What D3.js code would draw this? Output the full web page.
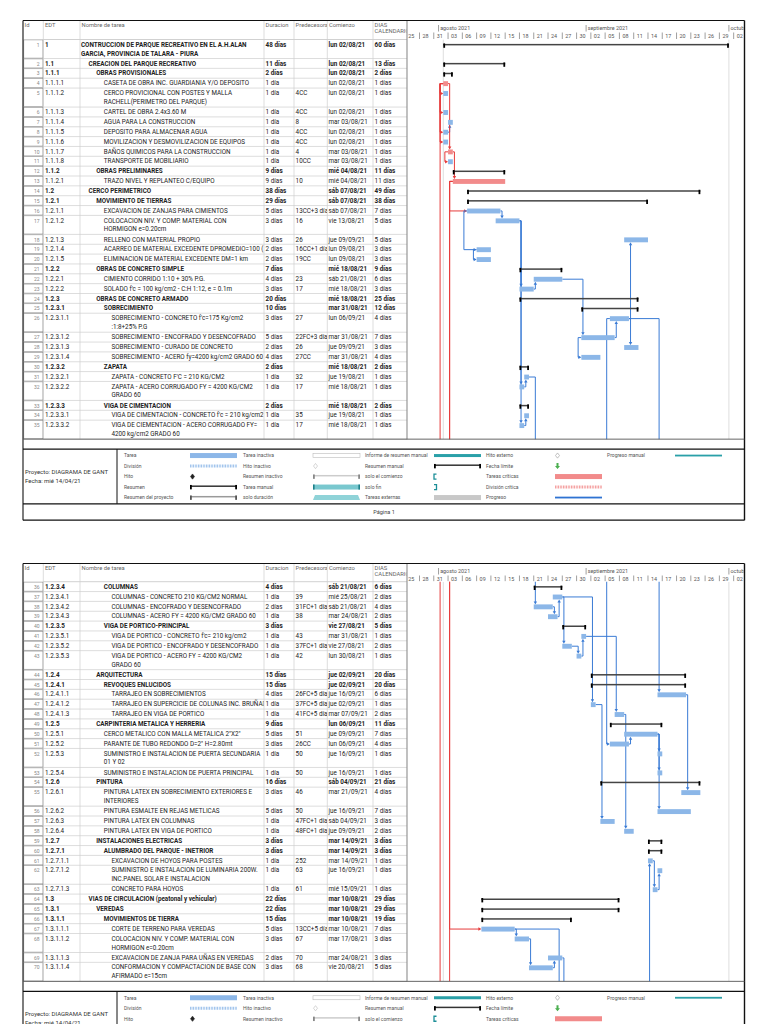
<!DOCTYPE html>
<html><head><meta charset="utf-8">
<script src="https://cdn.jsdelivr.net/npm/d3@7/dist/d3.min.js"></script>
<style>html,body{margin:0;padding:0;background:#fff}svg{display:block}</style>
</head><body>
<svg id="chart" width="768" height="1024" xmlns="http://www.w3.org/2000/svg"></svg>
<script>
// ================= DATA =================
const taskIds = d3.range(1, 71);
const edt = ["1","1.1","1.1.1","1.1.1.1","1.1.1.2","1.1.1.3","1.1.1.4","1.1.1.5","1.1.1.6","1.1.1.7",
"1.1.1.8","1.1.2","1.1.2.1","1.2","1.2.1","1.2.1.1","1.2.1.2","1.2.1.3","1.2.1.4","1.2.1.5",
"1.2.2","1.2.2.1","1.2.2.2","1.2.3","1.2.3.1","1.2.3.1.1","1.2.3.1.2","1.2.3.1.3","1.2.3.1.4","1.2.3.2",
"1.2.3.2.1","1.2.3.2.2","1.2.3.3","1.2.3.3.1","1.2.3.3.2","1.2.3.4","1.2.3.4.1","1.2.3.4.2","1.2.3.4.3","1.2.3.5",
"1.2.3.5.1","1.2.3.5.2","1.2.3.5.3","1.2.4","1.2.4.1","1.2.4.1.1","1.2.4.1.2","1.2.4.1.3","1.2.5","1.2.5.1",
"1.2.5.2","1.2.5.3","1.2.5.4","1.2.6","1.2.6.1","1.2.6.2","1.2.6.3","1.2.6.4","1.2.7","1.2.7.1",
"1.2.7.1.1","1.2.7.1.2","1.2.7.1.3","1.3","1.3.1","1.3.1.1","1.3.1.1.1","1.3.1.1.2","1.3.1.1.3","1.3.1.1.4"];
const taskNames = [
"CONTRUCCION DE PARQUE RECREATIVO EN EL A.H.ALAN\nGARCIA, PROVINCIA DE TALARA - PIURA",
"CREACION DEL PARQUE RECREATIVO",
"OBRAS PROVISIONALES",
"CASETA DE OBRA INC. GUARDIANIA Y/O DEPOSITO",
"CERCO PROVICIONAL CON POSTES Y MALLA\nRACHELL(PERIMETRO DEL PARQUE)",
"CARTEL DE OBRA 2.4x3.60 M",
"AGUA PARA LA CONSTRUCCION",
"DEPOSITO PARA ALMACENAR AGUA",
"MOVILIZACION Y DESMOVILIZACION DE EQUIPOS",
"BAÑOS QUIMICOS PARA LA CONSTRUCCION",
"TRANSPORTE DE MOBILIARIO",
"OBRAS PRELIMINARES",
"TRAZO NIVEL Y REPLANTEO C/EQUIPO",
"CERCO PERIMETRICO",
"MOVIMIENTO DE TIERRAS",
"EXCAVACION DE ZANJAS PARA CIMIENTOS",
"COLOCACION NIV. Y COMP. MATERIAL CON\nHORMIGON e=0.20cm",
"RELLENO CON MATERIAL PROPIO",
"ACARREO DE MATERIAL EXCEDENTE DPROMEDIO=100 (",
"ELIMINACION DE MATERIAL EXCEDENTE DM=1 km",
"OBRAS DE CONCRETO SIMPLE",
"CIMIENTO CORRIDO 1:10 + 30% P.G.",
"SOLADO f'c = 100 kg/cm2 - C:H 1:12, e = 0.1m",
"OBRAS DE CONCRETO ARMADO",
"SOBRECIMIENTO",
"SOBRECIMIENTO - CONCRETO f'c=175 Kg/cm2\n:1:8+25% P.G",
"SOBRECIMIENTO - ENCOFRADO Y DESENCOFRADO",
"SOBRECIMIENTO - CURADO DE CONCRETO",
"SOBRECIMIENTO - ACERO fy=4200 kg/cm2 GRADO 60",
"ZAPATA",
"ZAPATA - CONCRETO F'C = 210 KG/CM2",
"ZAPATA - ACERO CORRUGADO FY = 4200 KG/CM2\nGRADO 60",
"VIGA DE CIMENTACION",
"VIGA DE CIMENTACION - CONCRETO f'c = 210 kg/cm2",
"VIGA DE CIEMENTACION - ACERO CORRUGADO FY=\n4200 kg/cm2 GRADO 60",
"COLUMNAS",
"COLUMNAS - CONCRETO 210 KG/CM2 NORMAL",
"COLUMNAS - ENCOFRADO Y DESENCOFRADO",
"COLUMNAS - ACERO FY = 4200 KG/CM2 GRADO 60",
"VIGA DE PORTICO-PRINCIPAL",
"VIGA DE PORTICO - CONCRETO  f'c= 210 kg/cm2",
"VIGA DE PORTICO - ENCOFRADO Y DESENCOFRADO",
"VIGA DE PORTICO - ACERO FY = 4200 KG/CM2\nGRADO 60",
"ARQUITECTURA",
"REVOQUES ENLUCIDOS",
"TARRAJEO EN SOBRECIMIENTOS",
"TARRAJEO EN SUPERCICIE DE COLUNAS INC. BRUÑAD",
"TARRAJEO EN VIGA DE PORTICO",
"CARPINTERIA METALICA Y HERRERIA",
"CERCO METALICO CON MALLA METALICA 2\"X2\"",
"PARANTE DE TUBO REDONDO D=2\" H=2.80mt",
"SUMINISTRO E INSTALACION DE PUERTA SECUNDARIA\n01 Y 02",
"SUMINISTRO E INSTALACION DE PUERTA PRINCIPAL",
"PINTURA",
"PINTURA LATEX EN SOBRECIMIENTO EXTERIORES E\nINTERIORES",
"PINTURA ESMALTE EN REJAS METLICAS",
"PINTURA LATEX EN COLUMNAS",
"PINTURA LATEX EN VIGA DE PORTICO",
"INSTALACIONES ELECTRICAS",
"ALUMBRADO DEL PARQUE - INETRIOR",
"EXCAVACION DE HOYOS PARA POSTES",
"SUMINISTRO E INSTALACION DE LUMINARIA 200W.\nINC.PANEL SOLAR E INSTALACION",
"CONCRETO PARA HOYOS",
"VIAS DE CIRCULACION (peatonal y vehicular)",
"VEREDAS",
"MOVIMIENTOS DE TIERRA",
"CORTE DE TERRENO PARA VEREDAS",
"COLOCACION NIV. Y COMP. MATERIAL CON\nHORMIGON e=0.20cm",
"EXCAVACION DE ZANJA PARA UÑAS EN VEREDAS",
"CONFORMACION Y COMPACTACION DE BASE CON\nAFIRMADO e=15cm"];
const durations = ["48 días","11 días","2 días","1 día","1 día","1 día","1 día","1 día","1 día","1 día",
"1 día","9 días","9 días","38 días","29 días","5 días","3 días","3 días","2 días","2 días",
"7 días","4 días","3 días","20 días","10 días","3 días","5 días","2 días","4 días","2 días",
"1 día","1 día","2 días","1 día","1 día","4 días","1 día","2 días","1 día","3 días",
"1 día","1 día","1 día","15 días","15 días","4 días","1 día","1 día","9 días","5 días",
"3 días","1 día","1 día","16 días","3 días","5 días","1 día","1 día","3 días","3 días",
"1 día","1 día","1 día","22 días","22 días","15 días","5 días","3 días","2 días","3 días"];
const predecessors = ["","","","","4CC","4CC","8","4CC","4CC","4",
"10CC","","10","","","13CC+3 días","16","26","16CC+1 día","19CC",
"","23","17","","","27","22FC+3 días","26","27CC","",
"32","17","","35","17","","39","31FC+1 día","38","",
"43","37FC+1 día","42","","","26FC+5 días","37FC+5 días","41FC+5 días","","51",
"26CC","50","50","","46","50","47FC+1 día","48FC+1 día","","",
"252","63","61","","","","13CC+5 días","67","70","68"];
const startLabels = ["lun 02/08/21","lun 02/08/21","lun 02/08/21","lun 02/08/21","lun 02/08/21","lun 02/08/21","mar 03/08/21","lun 02/08/21","lun 02/08/21","mar 03/08/21",
"mar 03/08/21","mié 04/08/21","mié 04/08/21","sáb 07/08/21","sáb 07/08/21","sáb 07/08/21","vie 13/08/21","jue 09/09/21","lun 09/08/21","lun 09/08/21",
"mié 18/08/21","sáb 21/08/21","mié 18/08/21","mié 18/08/21","mar 31/08/21","lun 06/09/21","mar 31/08/21","jue 09/09/21","mar 31/08/21","mié 18/08/21",
"jue 19/08/21","mié 18/08/21","mié 18/08/21","jue 19/08/21","mié 18/08/21","sáb 21/08/21","mié 25/08/21","sáb 21/08/21","mar 24/08/21","vie 27/08/21",
"mar 31/08/21","vie 27/08/21","lun 30/08/21","jue 02/09/21","jue 02/09/21","jue 16/09/21","jue 02/09/21","mar 07/09/21","lun 06/09/21","jue 09/09/21",
"lun 06/09/21","jue 16/09/21","jue 16/09/21","sáb 04/09/21","mar 21/09/21","jue 16/09/21","sáb 04/09/21","jue 09/09/21","mar 14/09/21","mar 14/09/21",
"mar 14/09/21","jue 16/09/21","mié 15/09/21","mar 10/08/21","mar 10/08/21","mar 10/08/21","mar 10/08/21","mar 17/08/21","mar 24/08/21","vie 20/08/21"];
const calendarDays = [60,13,2,1,1,1,1,1,1,1, 1,11,11,49,38,7,5,5,3,3, 9,6,3,25,12,4,7,3,4,2,
1,1,2,1,1,6,2,4,2,5, 1,2,1,20,20,6,1,2,11,7, 4,1,1,21,4,7,3,2,3,3, 1,1,1,29,29,19,7,3,3,5];
const criticalTasks = [4, 10, 13];
// links to / from tasks printed on later pages
const externalPreds = [{id: 252, finish: "14/09/21"}];
const externalSuccs = [{pred: 4, rel: "CC", start: "02/08/21"}, {pred: 13, rel: "CC", start: "09/08/21"},
                       {pred: 67, rel: "FC", start: "26/08/21"}, {pred: 69, rel: "FC", start: "26/08/21"}];
const headerLabels = ["Id","EDT","Nombre de tarea","Duracion","Predecesoras","Comienzo","DIAS\nCALENDARIO"];
const monthStarts = ["01/08/21","01/09/21","01/10/21"];
const monthLabels = ["agosto 2021","septiembre 2021","octubre 2021"];
const tickFirst = "25/07/21", tickStep = 3, tickCount = 24;
const projectInfo = ["Proyecto: DIAGRAMA DE GANT", "Fecha: mié 14/04/21"];
const legendCol1 = ["Tarea","División","Hito","Resumen","Resumen del proyecto"];
const legendCol2 = ["Tarea inactiva","Hito inactivo","Resumen inactivo","Tarea manual","solo duración"];
const legendCol3 = ["Informe de resumen manual","Resumen manual","solo el comienzo","solo fin","Tareas externas"];
const legendCol4 = ["Hito externo","Fecha límite","Tareas críticas","División crítica","Progreso"];
const legendCol5 = ["Progreso manual"];
const pageLabels = ["Página 1","Página 2"];

// ================= SETUP =================
const svg = d3.select("#chart");
const defs = svg.append("defs");
const FONT = "Roboto, 'Liberation Sans', Arial, sans-serif";
const FSZ = 6.3;
const C_TEXT = "#222", C_GRID = "#cfcfcf", C_BLUE = "#8cb7e8", C_RED = "#f28b8b";
const C_LBLUE = "#3a7bd5", C_LRED = "#e63b3b";
const SINGLE = 9.85, DOUBLE = 19;
const FRAME_L = 23, FRAME_R = 744.5, GX0 = 407, GX1 = 744;
const cols = [
  {key:"id", x0:23, x1:43.3}, {key:"edt", x0:43.3, x1:80}, {key:"name", x0:80, x1:264},
  {key:"dur", x0:264, x1:294}, {key:"pred", x0:294, x1:327.3}, {key:"start", x0:327.3, x1:373},
  {key:"cal", x0:373, x1:407}];

const parseD = s => { const m = s.match(/(\d\d)\/(\d\d)\/(\d\d)/); return new Date(2000 + (+m[3]), +m[2] - 1, +m[1]); };
const DAY = 4.76;
const x = d3.scaleTime().domain([new Date(2021,7,2), new Date(2021,9,1)]).range([443.3, 443.3 + 60*DAY]);

const tasks = taskIds.map((id, i) => {
  const e = edt[i], next = edt[i+1];
  const start = parseD(startLabels[i]);
  return {id, edt: e, level: e.split(".").length - 1, summary: !!next && next.startsWith(e + "."),
    lines: taskNames[i].split("\n"), dur: durations[i], pred: predecessors[i], startLabel: startLabels[i],
    cal: calendarDays[i], start, finish: d3.timeDay.offset(start, calendarDays[i]),
    critical: criticalTasks.includes(id)};
});
const byId = new Map(tasks.map(t => [t.id, t]));
const extPred = new Map(externalPreds.map(p => [p.id, parseD(p.finish)]));

const links = [];
tasks.forEach(t => {
  if (!t.pred) return;
  t.pred.split(";").forEach(p => {
    const m = p.trim().match(/^(\d+)(CC|FC|FF|CF)?/);
    links.push({pred: +m[1], succ: t.id, rel: m[2] || "FC"});
  });
});
externalSuccs.forEach(e => links.push({pred: e.pred, succ: null, rel: e.rel, succStart: parseD(e.start)}));

const pages = [
  {first: 1, last: 35, top: 20.5, rowsTop: 39.5},
  {first: 36, last: 70, top: 563.5, rowsTop: 581.7}
];
pages.forEach(pg => {
  let y = pg.rowsTop;
  pg.rows = tasks.filter(t => t.id >= pg.first && t.id <= pg.last).map(t => {
    const h = t.lines.length > 1 ? DOUBLE : SINGLE; const r = {t, top: y, h}; y += h; return r; });
  pg.rowsEnd = y;
  pg.rowMap = new Map(pg.rows.map(r => [r.t.id, r]));
  pg.legendTop = y + 10;
  pg.bottom = pg.legendTop + 71;
});

function txt(g, xx, yy, s, o = {}) {
  return g.append("text").attr("x", xx).attr("y", yy).text(s)
    .attr("font-family", FONT).attr("font-size", o.size || FSZ)
    .attr("font-weight", o.bold ? 700 : 400).attr("fill", o.fill || C_TEXT)
    .attr("text-anchor", o.anchor || "start");
}
function line(g, x1, y1, x2, y2, stroke, w = 1) {
  return g.append("line").attr("x1", x1).attr("y1", y1).attr("x2", x2).attr("y2", y2)
    .attr("stroke", stroke).attr("stroke-width", w);
}
function summaryBracket(g, x0, x1, yc, color = "#444", cap = "#000") {
  g.append("rect").attr("x", x0).attr("y", yc - 0.8).attr("width", Math.max(0, x1 - x0)).attr("height", 1.5).attr("fill", color);
  g.append("rect").attr("x", x0).attr("y", yc - 1.3).attr("width", 1.8).attr("height", 4.4).attr("fill", cap);
  g.append("rect").attr("x", x1 - 1.8).attr("y", yc - 1.3).attr("width", 1.8).attr("height", 4.4).attr("fill", cap);
}

// ================= PAGES =================
pages.forEach((pg, pi) => {
  const g = svg.append("g");
  const top = pg.top;
  cols.forEach(c => defs.append("clipPath").attr("id", `cl${pi}${c.key}`).append("rect")
    .attr("x", c.x0 + 0.4).attr("y", top).attr("width", c.x1 - c.x0 - 0.8).attr("height", pg.rowsEnd - top));
  defs.append("clipPath").attr("id", `cl${pi}g`).append("rect")
    .attr("x", GX0 + 0.6).attr("y", pg.rowsTop).attr("width", GX1 - GX0 - 0.6).attr("height", pg.rowsEnd - pg.rowsTop);
  defs.append("clipPath").attr("id", `cl${pi}s`).append("rect")
    .attr("x", GX0 + 0.6).attr("y", top).attr("width", GX1 - GX0 - 1).attr("height", pg.rowsTop - top);

  // ---- table grid ----
  pg.rows.forEach(r => line(g, 43.3, r.top + r.h, GX0, r.top + r.h, C_GRID, 0.7));
  line(g, 43.3, pg.rowsTop, GX0, pg.rowsTop, "#bdbdbd", 0.7);
  cols.slice(1).forEach(c => line(g, c.x0, top, c.x0, pg.rowsEnd, C_GRID, 0.7));
  pg.rows.forEach(r => g.append("rect").attr("x", FRAME_L + 0.8).attr("y", r.top + 0.4).attr("width", 43.3 - FRAME_L - 1.2)
    .attr("height", r.h - 0.8).attr("fill", "#fff").attr("stroke", "#8a8a8a").attr("stroke-width", 0.6));

  // header
  headerLabels.forEach((h, i) => {
    const c = cols[i];
    const gg = g.append("g").attr("clip-path", `url(#cl${pi}${c.key})`);
    h.split("\n").forEach((s, k) => txt(gg, c.x0 + 1.6, top + 6.5 + k * 6.4, s, {size: 5.8, fill: "#666"}));
  });

  // rows text
  pg.rows.forEach(r => {
    const t = r.t, b = t.summary, y0 = r.top + 7.1;
    txt(g, 39.5, y0, t.id, {size: 5, fill: "#888", anchor: "end"});
    const put = (key, xx, s, bold) => {
      const gg = g.append("g").attr("clip-path", `url(#cl${pi}${key})`);
      (Array.isArray(s) ? s : [s]).forEach((ln, k) => txt(gg, xx, y0 + k * 8.9, ln, {bold}));
    };
    put("edt", 45, t.edt, b);
    put("name", 81 + t.level * 7.6, t.lines, b);
    put("dur", 265.6, t.dur, b);
    put("pred", 295.6, t.pred, false);
    put("start", 328.6, t.startLabel, b);
    put("cal", 374.6, t.cal + " días", b);
  });

  // ---- timescale ----
  const sg = g.append("g").attr("clip-path", `url(#cl${pi}s)`);
  monthStarts.forEach((d, i) => {
    const xm = x(parseD(d));
    line(sg, xm, top + 4.5, xm, top + 11, "#777", 0.7);
    txt(sg, xm + 1.6, top + 9.8, monthLabels[i], {size: 5.4, fill: "#555"});
  });
  const t0 = parseD(tickFirst);
  d3.range(tickCount).forEach(k => {
    const d = d3.timeDay.offset(t0, k * tickStep);
    const xt = x(d);
    if (xt > GX0 + 1) line(sg, xt, top + 12, xt, pg.rowsTop - 0.5, "#777", 0.7);
    txt(sg, xt + 3, top + 17.3, d3.timeFormat("%d")(d), {size: 5.4, fill: "#555"});
  });

  // ---- gantt ----
  const gg = g.append("g").attr("clip-path", `url(#cl${pi}g)`);
  const p1 = byId.get(1);
  line(gg, x(p1.start), pg.rowsTop, x(p1.start), pg.rowsEnd, "#d6d6d6", 0.8);
  line(gg, x(p1.finish), pg.rowsTop, x(p1.finish), pg.rowsEnd, "#d6d6d6", 0.8);

  const yInfo = id => {
    const r = pg.rowMap.get(id);
    if (r) return {on: true, c: r.top + 5.4, top: r.top + 3, bot: r.top + 7.9};
    const before = id !== null && id < pg.first && byId.has(id);
    const yy = before ? pg.rowsTop - 40 : pg.rowsEnd + 40;
    return {on: false, c: yy, top: yy, bot: yy};
  };
  // links
  links.forEach(l => {
    const pt = byId.get(l.pred);
    const st = l.succ !== null ? byId.get(l.succ) : null;
    const pStart = pt ? pt.start : null;
    const pEnd = pt ? pt.finish : extPred.get(l.pred);
    const sStart = st ? st.start : l.succStart;
    const P = yInfo(pt ? l.pred : 9999), S = yInfo(st ? l.succ : 9999);
    if (!P.on && !S.on && (P.c === S.c)) return;
    const color = pt && pt.critical ? C_LRED : C_LBLUE;
    if (l.rel === "CC") {
      const x1 = x(pStart), x2 = x(sStart), xv = Math.min(x1, x2) - 3.2;
      gg.append("path").attr("d", `M${x1},${P.c}H${xv}V${S.c}H${x2 - 2}`).attr("fill", "none").attr("stroke", color).attr("stroke-width", 1);
      if (S.on) gg.append("path").attr("d", `M${x2 - 3},${S.c - 1.7}L${x2},${S.c}L${x2 - 3},${S.c + 1.7}Z`).attr("fill", color);
    } else {
      const x1 = x(pEnd), x2 = x(sStart), xv = Math.max(x1, x2) + 1.6;
      const down = S.c > P.c;
      const ye = down ? S.top : S.bot;
      gg.append("path").attr("d", `M${x1},${P.c}H${xv}V${down ? ye - 2 : ye + 2}`).attr("fill", "none").attr("stroke", color).attr("stroke-width", 1);
      if (S.on) gg.append("path").attr("d", down ? `M${xv - 1.7},${ye - 3}L${xv + 1.7},${ye - 3}L${xv},${ye}Z`
                                                 : `M${xv - 1.7},${ye + 3}L${xv + 1.7},${ye + 3}L${xv},${ye}Z`).attr("fill", color);
    }
  });
  // bars
  pg.rows.forEach(r => {
    const t = r.t, x0 = x(t.start), x1 = x(t.finish);
    if (t.summary) summaryBracket(gg, x0, x1, r.top + 5.2);
    else gg.append("rect").attr("x", x0).attr("y", r.top + 3).attr("width", x1 - x0).attr("height", 4.9)
      .attr("fill", t.critical ? C_RED : C_BLUE);
  });

  // gantt divider & frame
  line(g, GX0, top, GX0, pg.rowsEnd, "#8d8d8d", 1.1);
  line(g, FRAME_L, top, FRAME_R, top, "#111", 1.1);
  line(g, FRAME_L, top, FRAME_L, pg.bottom, "#111", 1.1);
  line(g, FRAME_R, top, FRAME_R, pg.bottom, "#111", 1.4);
  line(g, FRAME_L, pg.rowsEnd, FRAME_R, pg.rowsEnd, "#555", 0.9);

  // ---- legend ----
  const LT = pg.legendTop;
  line(g, FRAME_L, LT, FRAME_R, LT, "#111", 1.2);
  line(g, FRAME_L, LT + 54.7, FRAME_R, LT + 54.7, "#111", 1.2);
  line(g, 117, LT, 117, LT + 54.7, "#111", 1);
  txt(g, 25, LT + 24.5, projectInfo[0], {size: 6, fill: "#333"});
  txt(g, 25, LT + 33.5, projectInfo[1], {size: 6, fill: "#333"});
  const lg = g.append("g");
  const ry = i => LT + 6.4 + i * 10.5;
  const labX = [124, 243, 365, 486, 607], symX = [190, 313, 434, 555, 675], SW = 47;
  [legendCol1, legendCol2, legendCol3, legendCol4, legendCol5].forEach((col, ci) =>
    col.forEach((s, i) => txt(lg, labX[ci], ry(i) + 1.8, s, {size: 5, fill: "#555"})));
  const dotted = (x0, y, c) => line(lg, x0, y, x0 + SW, y, c, 3).attr("stroke-dasharray", "0.8,0.8");
  const diamond = (cx, cy, fill, stroke) => lg.append("path").attr("d", `M${cx},${cy - 2.6}L${cx + 2},${cy}L${cx},${cy + 2.6}L${cx - 2},${cy}Z`)
      .attr("fill", fill).attr("stroke", stroke).attr("stroke-width", 0.6);
  // col 1
  lg.append("rect").attr("x", symX[0]).attr("y", ry(0) - 2.5).attr("width", SW).attr("height", 5).attr("fill", C_BLUE);
  dotted(symX[0], ry(1), C_BLUE);
  diamond(symX[0] + 2.5, ry(2), "#222", "#222");
  summaryBracket(lg, symX[0], symX[0] + SW, ry(3) - 0.8, "#333", "#000");
  summaryBracket(lg, symX[0], symX[0] + SW, ry(4) - 0.8, "#9a9a9a", "#555");
  // col 2
  lg.append("rect").attr("x", symX[1]).attr("y", ry(0) - 2).attr("width", SW).attr("height", 4).attr("fill", "#fff").attr("stroke", "#bbb").attr("stroke-width", 0.6);
  diamond(symX[1] + 2.5, ry(1), "#fff", "#bbb");
  summaryBracket(lg, symX[1], symX[1] + SW, ry(2) - 0.8, "#ccc", "#888");
  lg.append("rect").attr("x", symX[1]).attr("y", ry(3) - 2.5).attr("width", SW).attr("height", 5).attr("fill", "#79c8cf");
  lg.append("rect").attr("x", symX[1]).attr("y", ry(3) - 2.5).attr("width", 1.6).attr("height", 5).attr("fill", "#1d7f88");
  lg.append("rect").attr("x", symX[1] + SW - 1.6).attr("y", ry(3) - 2.5).attr("width", 1.6).attr("height", 5).attr("fill", "#1d7f88");
  lg.append("path").attr("d", `M${symX[1] + 2},${ry(4) - 2.5}H${symX[1] + SW - 2}L${symX[1] + SW},${ry(4) + 2.5}H${symX[1]}Z`).attr("fill", "#8fd3d8");
  // col 3
  lg.append("rect").attr("x", symX[2]).attr("y", ry(0) - 1.5).attr("width", SW).attr("height", 3).attr("fill", "#2aa0a8");
  summaryBracket(lg, symX[2], symX[2] + SW, ry(1) - 0.8, "#333", "#000");
  lg.append("path").attr("d", `M${symX[2] + 2.5},${ry(2) - 2.5}H${symX[2]}V${ry(2) + 2.5}H${symX[2] + 2.5}`).attr("fill", "none").attr("stroke", "#1d8f98").attr("stroke-width", 1.3);
  lg.append("path").attr("d", `M${symX[2]},${ry(3) - 2.5}H${symX[2] + 2.5}V${ry(3) + 2.5}H${symX[2]}`).attr("fill", "none").attr("stroke", "#1d8f98").attr("stroke-width", 1.3);
  lg.append("rect").attr("x", symX[2]).attr("y", ry(4) - 2.5).attr("width", SW).attr("height", 5).attr("fill", "#c8c8c8");
  // col 4
  diamond(symX[3] + 2.5, ry(0), "#fff", "#999");
  lg.append("path").attr("d", `M${symX[3] + 1.5},${ry(1) - 3}H${symX[3] + 3.5}V${ry(1)}H${symX[3] + 5}L${symX[3] + 2.5},${ry(1) + 3}L${symX[3]},${ry(1)}H${symX[3] + 1.5}Z`).attr("fill", "#4caf50");
  lg.append("rect").attr("x", symX[3]).attr("y", ry(2) - 2.5).attr("width", SW).attr("height", 5).attr("fill", C_RED);
  dotted(symX[3], ry(3), C_RED);
  lg.append("rect").attr("x", symX[3]).attr("y", ry(4) - 0.9).attr("width", SW).attr("height", 1.8).attr("fill", "#2f73d2");
  // col 5
  lg.append("rect").attr("x", symX[4]).attr("y", ry(0) - 0.9).attr("width", SW).attr("height", 1.8).attr("fill", "#2aa0a8");

  txt(g, 384, LT + 65, pageLabels[pi], {size: 5.6, fill: "#444", anchor: "middle"});
  line(g, FRAME_L, pg.bottom, FRAME_R, pg.bottom, "#111", 1.1);
});
</script>
</body></html>
